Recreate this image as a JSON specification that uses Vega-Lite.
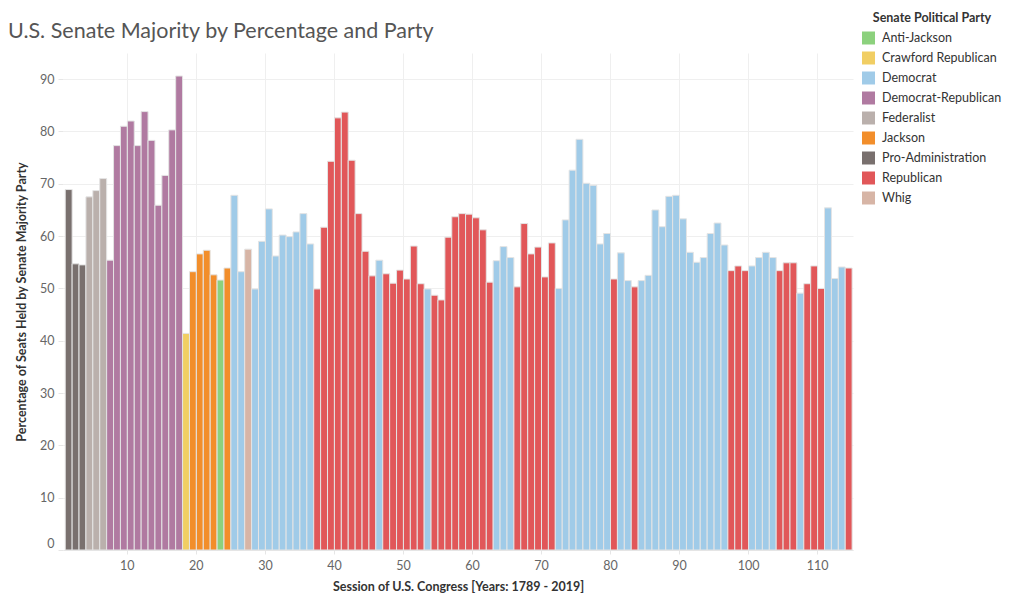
{
  "$schema": "https://vega.github.io/schema/vega-lite/v6.json",
  "autosize": {"type": "none"},
  "width": 790,
  "height": 497,
  "padding": {"left": 63, "top": 53, "right": 171, "bottom": 62},
  "background": "white",
  "title": {
    "text": "U.S. Senate Majority by Percentage and Party",
    "anchor": "start",
    "frame": "group",
    "dx": -55,
    "dy": 42,
    "offset": 12,
    "font": "Lato",
    "fontSize": 21.5,
    "fontWeight": "normal",
    "color": "#555555"
  },
  "config": {
    "view": {"stroke": null},
    "font": "Lato"
  },
  "data": {
    "values": [
      {"session": 1, "party": "Pro-Administration", "pct": 68.9},
      {"session": 2, "party": "Pro-Administration", "pct": 54.7},
      {"session": 3, "party": "Pro-Administration", "pct": 54.5},
      {"session": 4, "party": "Federalist", "pct": 67.5},
      {"session": 5, "party": "Federalist", "pct": 68.7},
      {"session": 6, "party": "Federalist", "pct": 71.0},
      {"session": 7, "party": "Democrat-Republican", "pct": 55.4},
      {"session": 8, "party": "Democrat-Republican", "pct": 77.3},
      {"session": 9, "party": "Democrat-Republican", "pct": 81.0},
      {"session": 10, "party": "Democrat-Republican", "pct": 82.0},
      {"session": 11, "party": "Democrat-Republican", "pct": 77.3},
      {"session": 12, "party": "Democrat-Republican", "pct": 83.8},
      {"session": 13, "party": "Democrat-Republican", "pct": 78.3},
      {"session": 14, "party": "Democrat-Republican", "pct": 65.9},
      {"session": 15, "party": "Democrat-Republican", "pct": 71.6},
      {"session": 16, "party": "Democrat-Republican", "pct": 80.3},
      {"session": 17, "party": "Democrat-Republican", "pct": 90.6},
      {"session": 18, "party": "Crawford Republican", "pct": 41.4},
      {"session": 19, "party": "Jackson", "pct": 53.2},
      {"session": 20, "party": "Jackson", "pct": 56.6},
      {"session": 21, "party": "Jackson", "pct": 57.3},
      {"session": 22, "party": "Jackson", "pct": 52.6},
      {"session": 23, "party": "Anti-Jackson", "pct": 51.6},
      {"session": 24, "party": "Jackson", "pct": 53.9},
      {"session": 25, "party": "Democrat", "pct": 67.8},
      {"session": 26, "party": "Democrat", "pct": 53.2},
      {"session": 27, "party": "Whig", "pct": 57.5},
      {"session": 28, "party": "Democrat", "pct": 49.9},
      {"session": 29, "party": "Democrat", "pct": 59.0},
      {"session": 30, "party": "Democrat", "pct": 65.2},
      {"session": 31, "party": "Democrat", "pct": 56.2},
      {"session": 32, "party": "Democrat", "pct": 60.2},
      {"session": 33, "party": "Democrat", "pct": 59.9},
      {"session": 34, "party": "Democrat", "pct": 60.8},
      {"session": 35, "party": "Democrat", "pct": 64.3},
      {"session": 36, "party": "Democrat", "pct": 58.5},
      {"session": 37, "party": "Republican", "pct": 49.9},
      {"session": 38, "party": "Republican", "pct": 61.7},
      {"session": 39, "party": "Republican", "pct": 74.3},
      {"session": 40, "party": "Republican", "pct": 82.6},
      {"session": 41, "party": "Republican", "pct": 83.7},
      {"session": 42, "party": "Republican", "pct": 74.5},
      {"session": 43, "party": "Republican", "pct": 64.3},
      {"session": 44, "party": "Republican", "pct": 57.1},
      {"session": 45, "party": "Republican", "pct": 52.4},
      {"session": 46, "party": "Democrat", "pct": 55.4},
      {"session": 47, "party": "Republican", "pct": 52.8},
      {"session": 48, "party": "Republican", "pct": 51.0},
      {"session": 49, "party": "Republican", "pct": 53.5},
      {"session": 50, "party": "Republican", "pct": 51.8},
      {"session": 51, "party": "Republican", "pct": 58.1},
      {"session": 52, "party": "Republican", "pct": 50.9},
      {"session": 53, "party": "Democrat", "pct": 49.9},
      {"session": 54, "party": "Republican", "pct": 48.7},
      {"session": 55, "party": "Republican", "pct": 47.8},
      {"session": 56, "party": "Republican", "pct": 59.8},
      {"session": 57, "party": "Republican", "pct": 63.7},
      {"session": 58, "party": "Republican", "pct": 64.3},
      {"session": 59, "party": "Republican", "pct": 64.2},
      {"session": 60, "party": "Republican", "pct": 63.5},
      {"session": 61, "party": "Republican", "pct": 61.2},
      {"session": 62, "party": "Republican", "pct": 51.2},
      {"session": 63, "party": "Democrat", "pct": 55.3},
      {"session": 64, "party": "Democrat", "pct": 58.0},
      {"session": 65, "party": "Democrat", "pct": 55.9},
      {"session": 66, "party": "Republican", "pct": 50.3},
      {"session": 67, "party": "Republican", "pct": 62.4},
      {"session": 68, "party": "Republican", "pct": 56.6},
      {"session": 69, "party": "Republican", "pct": 57.9},
      {"session": 70, "party": "Republican", "pct": 52.2},
      {"session": 71, "party": "Republican", "pct": 58.7},
      {"session": 72, "party": "Democrat", "pct": 50.0},
      {"session": 73, "party": "Democrat", "pct": 63.1},
      {"session": 74, "party": "Democrat", "pct": 72.6},
      {"session": 75, "party": "Democrat", "pct": 78.5},
      {"session": 76, "party": "Democrat", "pct": 70.1},
      {"session": 77, "party": "Democrat", "pct": 69.7},
      {"session": 78, "party": "Democrat", "pct": 58.5},
      {"session": 79, "party": "Democrat", "pct": 60.5},
      {"session": 80, "party": "Republican", "pct": 51.8},
      {"session": 81, "party": "Democrat", "pct": 56.8},
      {"session": 82, "party": "Democrat", "pct": 51.5},
      {"session": 83, "party": "Republican", "pct": 50.3},
      {"session": 84, "party": "Democrat", "pct": 51.5},
      {"session": 85, "party": "Democrat", "pct": 52.5},
      {"session": 86, "party": "Democrat", "pct": 65.0},
      {"session": 87, "party": "Democrat", "pct": 61.8},
      {"session": 88, "party": "Democrat", "pct": 67.6},
      {"session": 89, "party": "Democrat", "pct": 67.8},
      {"session": 90, "party": "Democrat", "pct": 63.3},
      {"session": 91, "party": "Democrat", "pct": 56.9},
      {"session": 92, "party": "Democrat", "pct": 55.0},
      {"session": 93, "party": "Democrat", "pct": 55.9},
      {"session": 94, "party": "Democrat", "pct": 60.5},
      {"session": 95, "party": "Democrat", "pct": 62.5},
      {"session": 96, "party": "Democrat", "pct": 58.3},
      {"session": 97, "party": "Republican", "pct": 53.4},
      {"session": 98, "party": "Republican", "pct": 54.3},
      {"session": 99, "party": "Republican", "pct": 53.4},
      {"session": 100, "party": "Democrat", "pct": 54.3},
      {"session": 101, "party": "Democrat", "pct": 55.9},
      {"session": 102, "party": "Democrat", "pct": 56.9},
      {"session": 103, "party": "Democrat", "pct": 55.9},
      {"session": 104, "party": "Republican", "pct": 53.4},
      {"session": 105, "party": "Republican", "pct": 54.9},
      {"session": 106, "party": "Republican", "pct": 54.9},
      {"session": 107, "party": "Democrat", "pct": 49.1},
      {"session": 108, "party": "Republican", "pct": 50.9},
      {"session": 109, "party": "Republican", "pct": 54.3},
      {"session": 110, "party": "Republican", "pct": 50.0},
      {"session": 111, "party": "Democrat", "pct": 65.4},
      {"session": 112, "party": "Democrat", "pct": 51.9},
      {"session": 113, "party": "Democrat", "pct": 54.1},
      {"session": 114, "party": "Republican", "pct": 53.9}
    ]
  },
  "mark": {"type": "bar", "stroke": "#e4e4e4", "strokeWidth": 1, "binSpacing": 0},
  "encoding": {
    "x": {
      "field": "session",
      "type": "quantitative",
      "bin": {"step": 1, "extent": [1, 115]},
      "scale": {"domain": [0.75, 115.2], "nice": false, "zero": false},
      "axis": {
        "title": "Session of U.S. Congress [Years: 1789 - 2019]",
        "values": [10, 20, 30, 40, 50, 60, 70, 80, 90, 100, 110],
        "format": "d",
        "labelFontSize": 12.5,
        "labelColor": "#666666",
        "labelPadding": 5,
        "tickSize": 4,
        "tickColor": "#e6e6e6",
        "domainColor": "#e6e6e6",
        "grid": true,
        "gridColor": "#efefef",
        "titleFontSize": 12.5,
        "titleFontWeight": "bold",
        "titleColor": "#333333",
        "titlePadding": 9
      }
    },
    "y": {
      "field": "pct",
      "type": "quantitative",
      "scale": {"domain": [0, 95], "nice": false},
      "axis": {
        "title": "Percentage of Seats Held by Senate Majority Party",
        "values": [0, 10, 20, 30, 40, 50, 60, 70, 80, 90],
        "labelFontSize": 12.5,
        "labelColor": "#666666",
        "labelPadding": 4,
        "labelFlush": true,
        "tickSize": 5,
        "tickColor": "#e6e6e6",
        "domain": false,
        "grid": true,
        "gridColor": "#efefef",
        "titleFontSize": 12.5,
        "titleFontWeight": "bold",
        "titleColor": "#333333",
        "titlePadding": 11
      }
    },
    "color": {
      "field": "party",
      "type": "nominal",
      "scale": {
        "domain": ["Anti-Jackson", "Crawford Republican", "Democrat", "Democrat-Republican", "Federalist", "Jackson", "Pro-Administration", "Republican", "Whig"],
        "range": ["#8CD17D", "#F1CE63", "#A0CBE8", "#B07AA1", "#BAB0AC", "#F28E2B", "#79706E", "#E15759", "#D7B5A6"]
      },
      "legend": {
        "title": "Senate Political Party",
        "orient": "none",
        "legendX": 799,
        "legendY": -41,
        "padding": 0,
        "symbolType": "square",
        "symbolSize": 169,
        "symbolStrokeWidth": 0,
        "symbolOpacity": 1,
        "labelFontSize": 12.5,
        "labelColor": "#333333",
        "labelOffset": 7,
        "rowPadding": 7,
        "titleFontSize": 12.5,
        "titleFontWeight": "bold",
        "titleColor": "#333333",
        "titleAnchor": "middle",
        "titlePadding": 7
      }
    }
  }
}
